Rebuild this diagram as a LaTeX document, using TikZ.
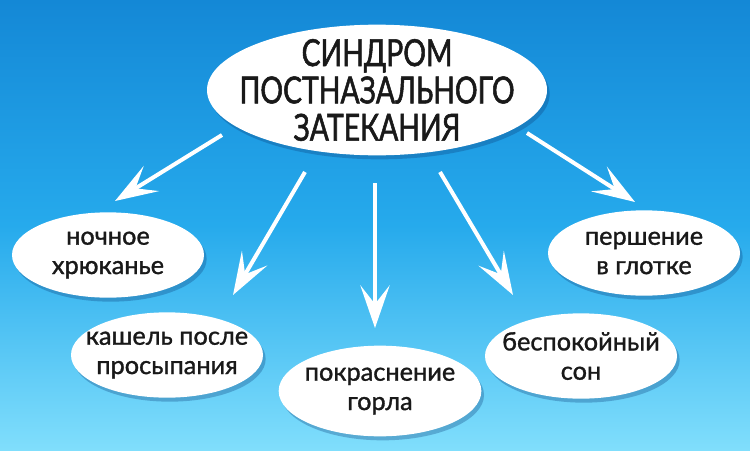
\documentclass[tikz,border=0pt]{standalone}
\usepackage{fontspec}
\setmainfont{Lato}[FakeBold=1.2]
\newfontfamily\titlefont[FakeStretch=0.76,FakeBold=1.4]{Lato}
\usetikzlibrary{shapes.geometric}
\usetikzlibrary{arrows.meta}
\usetikzlibrary{shadows}
\definecolor{skytop}{RGB}{20,136,214}
\definecolor{skymid}{RGB}{38,170,236}
\definecolor{skybot}{RGB}{128,222,252}
\definecolor{shadowblue}{RGB}{10,60,120}

\begin{document}
\begin{tikzpicture}[x=0.75pt,y=-0.75pt,
    sign/.style={ellipse,fill=white,inner xsep=-25pt,inner ysep=-6pt,
      minimum width=144pt,minimum height=64pt,align=center,
      font=\fontsize{19}{22}\selectfont,text=black!90,
      drop shadow={shadow xshift=2pt,shadow yshift=-3pt,opacity=0.3,fill=shadowblue}},
    arr/.style={white,line width=3pt,-{Stealth[length=32pt,width=22pt,inset=14pt]}}]
    \shade[top color=skytop,bottom color=skybot,middle color=skymid] (0,0) rectangle (750,450);

    \node[sign,minimum width=255pt,minimum height=98pt,inner xsep=-20pt,inner ysep=-10pt,
      font=\titlefont\fontsize{28}{28}\selectfont] (syndrome) at (377,90)
      {СИНДРОМ\\ПОСТНАЗАЛЬНОГО\\ЗАТЕКАНИЯ};

    \node[sign] (snore) at (108,255) {ночное\\хрюканье};
    \node[sign] (cough) at (167,355) {кашель после\\просыпания};
    \node[sign,minimum width=152pt,minimum height=68pt] (throat) at (380,391) {покраснение\\горла};
    \node[sign] (sleep) at (581,356) {беспокойный\\сон};
    \node[sign] (tickle) at (644,253) {першение\\в глотке};

    \coordinate (s1) at (222,135);
    \coordinate (s2) at (305,172);
    \coordinate (s3) at (375,183);
    \coordinate (s4) at (440,172);
    \coordinate (s5) at (527,133);
    \coordinate (e1) at (115,201);
    \coordinate (e2) at (233,295);
    \coordinate (e3) at (375,328);
    \coordinate (e4) at (513,295);
    \coordinate (e5) at (635,202);

    \draw[arr] (s1) -- (e1);
    \draw[arr] (s2) -- (e2);
    \draw[arr] (s3) -- (e3);
    \draw[arr] (s4) -- (e4);
    \draw[arr] (s5) -- (e5);
\end{tikzpicture}
\end{document}
